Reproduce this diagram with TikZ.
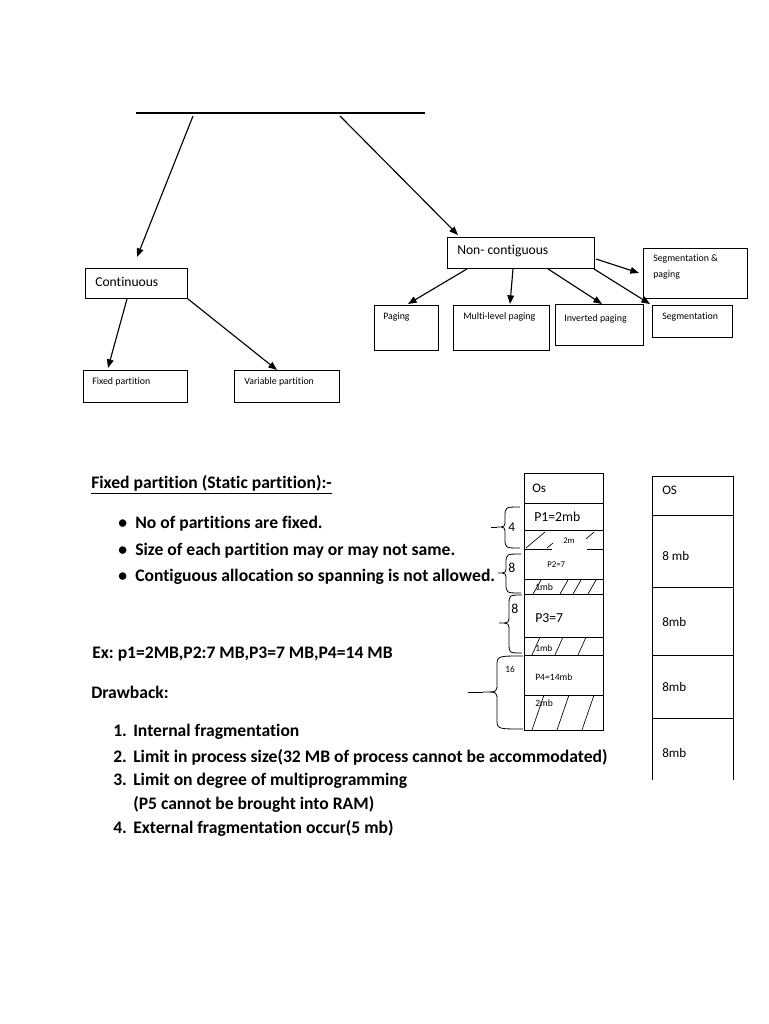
\documentclass[tikz,border=0pt]{standalone}
\usepackage{fontspec}
\setmainfont{Carlito}[Ligatures=NoCommon]
\usetikzlibrary{arrows.meta,calc}
\newcommand\membrace[6]{% xr ytop ybot xs xtip ymid
  \draw[line width=0.6pt] (#1,#2) .. controls (#4,#2) .. (#4,#2+10) -- (#4,#6-8)
    .. controls (#4,#6) .. (#5,#6) .. controls (#4,#6) .. (#4,#6+8)
    -- (#4,#3-10) .. controls (#4,#3) .. (#1,#3);}
\newcommand\bul{\makebox[12.75pt][l]{\textbullet}}
\newcommand\num[1]{\makebox[15pt][l]{#1}}
\begin{document}
\frenchspacing
\begin{tikzpicture}[x=0.75pt,y=-0.75pt,
  box/.style={draw, line width=0.7pt, inner sep=0pt, anchor=north west},
  arr/.style={-{Triangle[length=6.5pt,width=5pt]}, line width=0.85pt},
  lbl/.style={anchor=west, inner sep=0pt},
  big/.style={lbl, font=\fontsize{10.2}{12}\selectfont},
  tiny/.style={lbl, font=\fontsize{7.4}{9}\selectfont},
  body/.style={lbl, font=\fontsize{13.2}{15}\selectfont\bfseries},
  hatch/.style={line width=0.5pt},
  cell/.style={line width=0.7pt}]
\useasboundingbox (0,0) rectangle (768,1024);

% ---- top tree ----
\coordinate (tl) at (136,113);
\coordinate (tr) at (425,113);
\draw[line width=1.3pt] (tl) -- (tr);
\coordinate (s1) at (193,116);
\coordinate (s2) at (340,116);

\node[box, minimum width={102*0.75pt}, minimum height={30*0.75pt}] (cont) at (85,268) {};
\node[big] (contT) at (95,282) {Continuous};
\node[box, minimum width={104*0.75pt}, minimum height={32*0.75pt}] (fixp) at (83,370) {};
\node[tiny] (fixpT) at (92,382) {Fixed partition};
\node[box, minimum width={105*0.75pt}, minimum height={32*0.75pt}] (varp) at (234,370) {};
\node[tiny] (varpT) at (244,382) {Variable partition};

\node[box, minimum width={147*0.75pt}, minimum height={31*0.75pt}] (nonc) at (447,237) {};
\node[big] (noncT) at (457,251) {Non- contiguous};
\node[box, minimum width={104*0.75pt}, minimum height={50*0.75pt}] (segp) at (643,248) {};
\node[tiny] (segpT1) at (653,259) {Segmentation \&};
\node[tiny] (segpT2) at (653,275) {paging};
\node[box, minimum width={64*0.75pt}, minimum height={45*0.75pt}] (pag) at (374,305) {};
\node[tiny] (pagT) at (383,317) {Paging};
\node[box, minimum width={96*0.75pt}, minimum height={45*0.75pt}] (mlp) at (453,305) {};
\node[tiny] (mlpT) at (463,317) {Multi-level paging};
\node[box, minimum width={88*0.75pt}, minimum height={41*0.75pt}] (inv) at (555,304) {};
\node[tiny] (invT) at (564,319) {Inverted paging};
\node[box, minimum width={80*0.75pt}, minimum height={32*0.75pt}] (seg) at (652,305) {};
\node[tiny] (segT) at (662,317) {Segmentation};

\draw[arr] (s1) -- ($(cont.north west)+(52,-11)$);
\draw[arr] (s2) -- ($(nonc.north west)+(11,-2)$);
\draw[arr] ($(cont.south west)+(42,0)$) -- ($(fixp.north west)+(25,-2)$);
\draw[arr] (cont.south east) -- ($(varp.north west)+(43,0)$);
\draw[arr] ($(nonc.south west)+(20,0)$) -- ($(pag.north west)+(34,-1)$);
\draw[arr] ($(nonc.south west)+(66,0)$) -- ($(mlp.north west)+(57,-1)$);
\draw[arr] ($(nonc.south west)+(101,0)$) -- ($(inv.north west)+(47,0)$);
\draw[arr] ($(nonc.south east)+(-1,0)$) -- ($(seg.north west)+(-2,-1)$);
\draw[arr] ($(nonc.north east)+(1,22)$) -- ($(segp.north west)+(-4,25)$);

% ---- lower text ----
\node[body] (title) at (91,485) {\underline{Fixed partition (Static partition):-}};
\node[body] (b1) at (118,524) {\bul No of partitions are fixed.};
\node[body] (b2) at (118,551) {\bul Size of each partition may or may not same.};
\node[body] (b3) at (118,577) {\bul Contiguous allocation so spanning is not allowed.};
\node[body] (ex) at (92,654) {Ex: p1=2MB,P2:7 MB,P3=7 MB,P4=14 MB};
\node[body] (dr) at (91,692) {Drawback:};
\node[body] (n1) at (113,732) {\num{1.}Internal fragmentation};
\node[body] (n2) at (113,757) {\num{2.}Limit in process size(32 MB of process cannot be accommodated)};
\node[body] (n3) at (113,781) {\num{3.}Limit on degree of multiprogramming};
\node[body] (n3b) at (133,804) {(P5 cannot be brought into RAM)};
\node[body] (n4) at (113,828) {\num{4.}External fragmentation occur(5 mb)};

% ---- memory column 1 ----
\draw[cell] (524,473) rectangle (603,730);
\foreach \yy in {503,530,579,594,637,655,695} \draw[cell] (524,\yy) -- (603,\yy);
\draw[cell] (524,549) -- (552,549);
\draw[cell] (587,549) -- (603,549);
\node[lbl, font=\fontsize{9.8}{11}\selectfont] (os1) at (532,488) {Os};
\node[lbl, font=\fontsize{10.3}{12}\selectfont] (p1) at (534,517) {P1=2mb};
\node[lbl, font=\fontsize{6.5}{7}\selectfont] (h1) at (563,541) {2m};
\draw[hatch] (526,548) -- (545,532);
\draw[hatch] (547,548) -- (553,543);
\draw[hatch] (586,539) -- (594,532);
\node[lbl, font=\fontsize{6.6}{7}\selectfont] (p2) at (547,565) {P2=7};
\node[lbl, font=\fontsize{7.3}{8}\selectfont] (h2) at (535,587) {1mb};
\foreach \xx in {533,560,573,588} \draw[hatch] (\xx,594) -- (\xx+8,580);
\node[lbl, font=\fontsize{10.3}{12}\selectfont] (p3) at (535,618) {P3=7};
\node[lbl, font=\fontsize{7}{8}\selectfont] (h3) at (535,648) {1mb};
\foreach \xx in {532,555,578} \draw[hatch] (\xx,655) -- (\xx+8,637);
\node[lbl, font=\fontsize{7.2}{8}\selectfont] (p4) at (535,677) {P4=14mb};
\node[lbl, font=\fontsize{7.2}{8}\selectfont] (h4) at (535,703) {2mb};
\foreach \xx in {532,557,582} \draw[hatch] (\xx,730) -- (\xx+12,695);

% braces
\membrace{520}{507}{548}{505}{497}{527}
\draw[line width=0.6pt] (491,527) -- (497,527);
\node[lbl, font=\fontsize{10}{11}\selectfont] (k4) at (508,527) {4};
\membrace{521}{554}{593}{506}{498}{573}
\node[lbl, font=\fontsize{10.3}{12}\selectfont] (k8a) at (508,568) {8};
\membrace{522}{595}{653}{509}{499}{623}
\node[lbl, font=\fontsize{10.3}{12}\selectfont] (k8b) at (511,609) {8};
\membrace{523}{656}{729}{497}{483}{692}
\draw[line width=0.6pt] (468,692) -- (483,692);
\node[lbl, font=\fontsize{7}{8}\selectfont] (k16) at (505,669) {16};

% ---- memory column 2 ----
\draw[cell] (652,780) -- (652,476) -- (733,476) -- (733,780);
\foreach \yy in {515,587,655,718} \draw[cell] (652,\yy) -- (733,\yy);
\node[lbl, font=\fontsize{9.8}{11}\selectfont] (os2) at (662,490) {OS};
\node[lbl, font=\fontsize{9.8}{11}\selectfont] (m1) at (662,556) {8 mb};
\node[lbl, font=\fontsize{9.8}{11}\selectfont] (m2) at (662,622) {8mb};
\node[lbl, font=\fontsize{9.8}{11}\selectfont] (m3) at (662,687) {8mb};
\node[lbl, font=\fontsize{9.8}{11}\selectfont] (m4) at (662,753) {8mb};
\end{tikzpicture}
\end{document}
